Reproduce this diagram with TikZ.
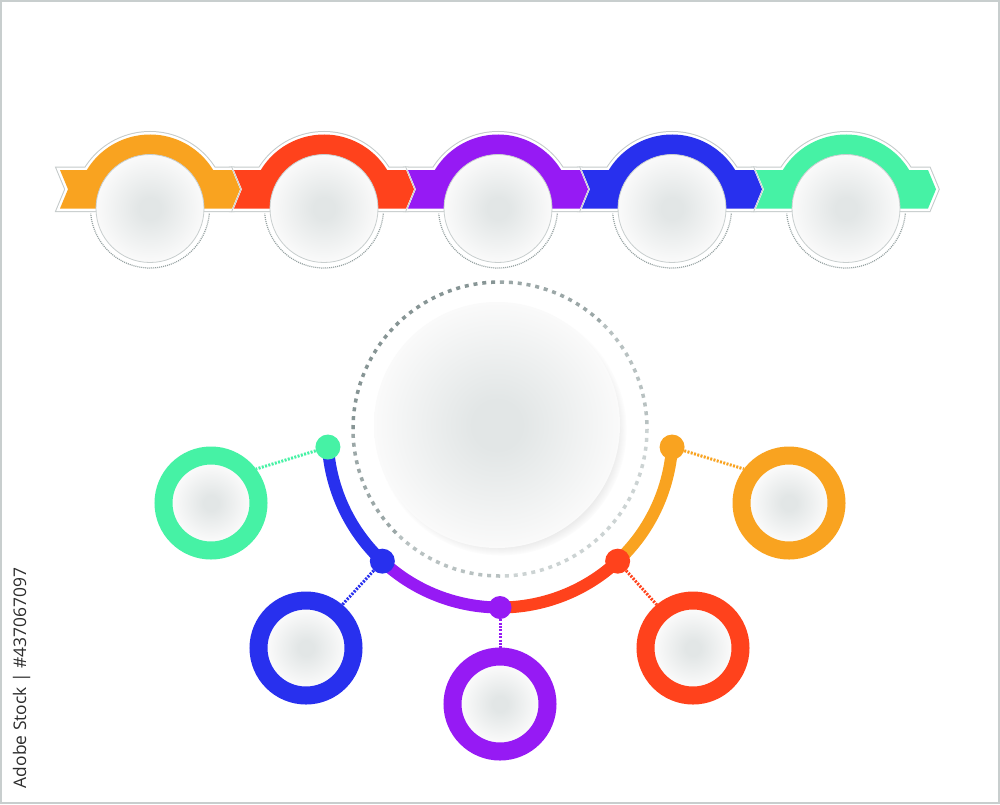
\documentclass[tikz,border=0pt]{standalone}
\usepackage{fontspec}
\newfontfamily\wmfont{Open Sans}
\usetikzlibrary{shadows,calc}
\definecolor{corange}{RGB}{249,163,32}
\definecolor{cred}{RGB}{255,66,28}
\definecolor{cpurple}{RGB}{150,26,244}
\definecolor{cblue}{RGB}{40,48,238}
\definecolor{cgreen}{RGB}{70,242,165}
\definecolor{dcenter}{RGB}{226,230,230}
\definecolor{dedge}{RGB}{250,250,250}
\definecolor{diskline}{RGB}{200,206,206}
\definecolor{outline}{RGB}{196,202,202}
\definecolor{dashdark}{RGB}{132,146,146}
\definecolor{dashlight}{RGB}{206,213,213}
\definecolor{framecol}{RGB}{200,206,206}
\definecolor{wmgray}{RGB}{45,45,45}
\pgfdeclareradialshading{unitdisk}{\pgfpoint{0bp}{0bp}}{color(0bp)=(dcenter); color(5bp)=(dcenter); color(25bp)=(dedge); color(100bp)=(dedge)}
\pgfdeclareradialshading{ringdisk}{\pgfpoint{0bp}{0bp}}{color(0bp)=(dcenter); color(4bp)=(dcenter); color(20bp)=(dedge); color(100bp)=(dedge)}
\begin{document}
\begin{tikzpicture}[x=1pt,y=-1pt,
  unitdiskst/.style={circle, minimum size=108pt, inner sep=0pt, shade, shading=unitdisk, draw=diskline, line width=0.8pt},
  hubdisk/.style={circle, minimum size=246pt, inner sep=0pt, shade, shading=unitdisk,
     circular drop shadow={shadow xshift=4pt, shadow yshift=-5pt, shadow scale=1.02, opacity=.3}},
  ringst/.style={circle, minimum size=95pt, inner sep=0pt, shade, shading=ringdisk, line width=18pt},
  dotst/.style={circle, minimum size=25pt, inner sep=0pt},
  arcseg/.style={line width=12pt},
  conn/.style={line width=3pt, dash pattern=on 2pt off 1.4pt},
  halfdots/.style={line width=1.2pt, dash pattern=on 1pt off 1pt, draw=dashdark!80!dashlight},
  ribbonout/.style={draw=outline, line width=7pt, line join=miter},
  ribbonwhite/.style={draw=white, line width=5pt, line join=miter},
  gapline/.style={draw=outline, line width=0.8pt},
  hubdash/.style={line width=3.5pt, dash pattern=on 4pt off 4.88pt}
]
\useasboundingbox (0,0) rectangle (1000,804);
\fill[white] (0,0) rectangle (1000,804);
\draw[draw=framecol, line width=2pt] (1,1) rectangle (999,803);

% ---------- top ribbon ----------
\foreach \cx in {150,324,498,672,846} {
  \path[ribbonout] (\cx-90,170) -- (\cx-63.2,170) arc[start angle=211.35, end angle=328.65, radius=74]
    -- (\cx+82,170) -- (\cx+90,189.25) -- (\cx+82,208.5) -- (\cx+54,208.5)
    arc[start angle=0, end angle=-180, radius=54] -- (\cx-90,208.5) -- (\cx-82,189.25) -- cycle;
}
\foreach \cx in {150,324,498,672,846} {
  \path[ribbonwhite] (\cx-90,170) -- (\cx-63.2,170) arc[start angle=211.35, end angle=328.65, radius=74]
    -- (\cx+82,170) -- (\cx+90,189.25) -- (\cx+82,208.5) -- (\cx+54,208.5)
    arc[start angle=0, end angle=-180, radius=54] -- (\cx-90,208.5) -- (\cx-82,189.25) -- cycle;
}
\foreach \cx/\col in {150/corange,324/cred,498/cpurple,672/cblue,846/cgreen} {
  \fill[\col] (\cx-90,170) -- (\cx-63.2,170) arc[start angle=211.35, end angle=328.65, radius=74]
    -- (\cx+82,170) -- (\cx+90,189.25) -- (\cx+82,208.5) -- (\cx+54,208.5)
    arc[start angle=0, end angle=-180, radius=54] -- (\cx-90,208.5) -- (\cx-82,189.25) -- cycle;
}
\foreach \cx in {150,324,498,672} {
  \draw[gapline] (\cx+81.5,166.5) -- (\cx+91,189.25) -- (\cx+81.5,212);
}
\foreach \cx [count=\i] in {150,324,498,672,846} {
  \node[unitdiskst] (u\i) at (\cx,208.5) {};
  \draw[halfdots] (u\i.center) ++(5:59.5) arc[start angle=5, end angle=175, radius=59.5];
}

% ---------- hub ----------
\coordinate (H) at (500,429);
\foreach \k in {0,...,7} {
  \pgfmathsetmacro\ang{\k*45}
  \pgfmathtruncatemacro\mixp{100*(1+cos(\ang+22.5-225))/2}
  \draw[hubdash, dashdark!\mixp!dashlight] (H) ++(\ang:147) arc[start angle=\ang, end angle=\ang+45, radius=147];
}
\node[hubdisk] (hub) at (497,425) {};

% ---------- arc with dots ----------
\coordinate (C) at (500,435);
\coordinate (pg) at ($(C)+(176:172.5)$);
\coordinate (pb) at ($(C)+(133:172.5)$);
\coordinate (pp) at ($(C)+(90:172.5)$);
\coordinate (pr) at ($(C)+(47:172.5)$);
\coordinate (po) at ($(C)+(4:172.5)$);
\draw[arcseg, cblue] (pg) arc[start angle=176, end angle=133, radius=172.5];
\draw[arcseg, cpurple] (pb) arc[start angle=133, end angle=90, radius=172.5];
\draw[arcseg, cred] (pp) arc[start angle=90, end angle=47, radius=172.5];
\draw[arcseg, corange] (pr) arc[start angle=47, end angle=4, radius=172.5];
\node[dotst, fill=cgreen] (dg) at (pg) {};
\node[dotst, fill=cblue] (db) at (pb) {};
\node[dotst, fill=cpurple, minimum size=23pt] (dp) at (pp) {};
\node[dotst, fill=cred] (dr) at (pr) {};
\node[dotst, fill=corange] (do) at (po) {};

% ---------- rings ----------
\node[ringst, draw=cgreen] (rg) at (211,503) {};
\node[ringst, draw=cblue] (rb) at (306,648) {};
\node[ringst, draw=cpurple] (rp) at (500,704) {};
\node[ringst, draw=cred] (rr) at (693,648) {};
\node[ringst, draw=corange] (ro) at (789,503) {};

\draw[conn, cgreen] (dg) -- (rg.37);
\draw[conn, cblue] (db) -- (rb.50);
\draw[conn, cpurple] (dp) -- (rp.north);
\draw[conn, cred] (dr) -- (rr.130);
\draw[conn, corange] (do) -- (ro.143);

% ---------- side text ----------
\node[rotate=90, text=wmgray, font=\wmfont\fontsize{17.4}{20}\selectfont, inner sep=0pt] (wm) at (21.5,678) {Adobe Stock | \#437067097};
\end{tikzpicture}
\end{document}
